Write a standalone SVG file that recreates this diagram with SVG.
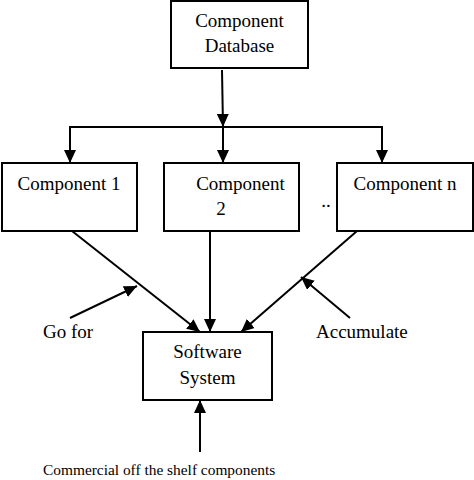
<svg xmlns="http://www.w3.org/2000/svg" width="474" height="480" viewBox="0 0 474 480">
<style>
.box{fill:#fff;stroke:#000;stroke-width:2}
.ln{fill:none;stroke:#000;stroke-width:2}
.t{font-family:"Liberation Serif","Times New Roman",serif;font-size:19px;fill:#000}
.s{font-family:"Liberation Serif","Times New Roman",serif;font-size:15.4px;fill:#000}
</style>
<defs>
<marker id="ah" markerUnits="userSpaceOnUse" markerWidth="14" markerHeight="12" refX="13" refY="6" orient="auto">
<path d="M0,0 L13,6 L0,12 Z" fill="#000"/>
</marker>
</defs>
<rect width="474" height="480" fill="#fff"/>
<g id="connectors">
<line class="ln" x1="222" y1="70" x2="223" y2="127" marker-end="url(#ah)"/>
<line class="ln" x1="69" y1="127" x2="383" y2="127"/>
<line class="ln" x1="70" y1="127" x2="70" y2="163" marker-end="url(#ah)"/>
<line class="ln" x1="223" y1="127" x2="223" y2="163" marker-end="url(#ah)"/>
<line class="ln" x1="382" y1="127" x2="382" y2="163" marker-end="url(#ah)"/>
<line class="ln" x1="72" y1="231" x2="200" y2="332" marker-end="url(#ah)"/>
<line class="ln" x1="210" y1="231" x2="210" y2="332" marker-end="url(#ah)"/>
<line class="ln" x1="357" y1="231" x2="241" y2="332" marker-end="url(#ah)"/>
<line class="ln" x1="70" y1="318" x2="137" y2="286" marker-end="url(#ah)"/>
<line class="ln" x1="350" y1="318" x2="301" y2="277" marker-end="url(#ah)"/>
<line class="ln" x1="200" y1="452" x2="200" y2="400" marker-end="url(#ah)"/>
</g>
<g id="database">
<rect class="box" x="171" y="1" width="137" height="67"/>
<text class="t" x="239.5" y="27" text-anchor="middle">Component</text>
<text class="t" x="239.5" y="52" text-anchor="middle">Database</text>
</g>
<g id="component1">
<rect class="box" x="2" y="163" width="135" height="68"/>
<text class="t" x="69" y="190" text-anchor="middle">Component 1</text>
</g>
<g id="component2">
<rect class="box" x="164" y="163" width="135" height="68"/>
<text class="t" x="240.5" y="190" text-anchor="middle">Component</text>
<text class="t" x="221" y="215" text-anchor="middle">2</text>
</g>
<g id="ellipsis">
<text class="t" x="326" y="207" text-anchor="middle">..</text>
</g>
<g id="componentn">
<rect class="box" x="337" y="163" width="136" height="68"/>
<text class="t" x="405" y="190" text-anchor="middle">Component n</text>
</g>
<g id="software">
<rect class="box" x="143" y="332" width="129" height="68"/>
<text class="t" x="207.5" y="358" text-anchor="middle">Software</text>
<text class="t" x="207.5" y="384" text-anchor="middle">System</text>
</g>
<g id="labels">
<text class="t" x="43" y="338">Go for</text>
<text class="t" x="316" y="338">Accumulate</text>
<text class="s" x="43" y="475">Commercial off the shelf components</text>
</g>
</svg>
